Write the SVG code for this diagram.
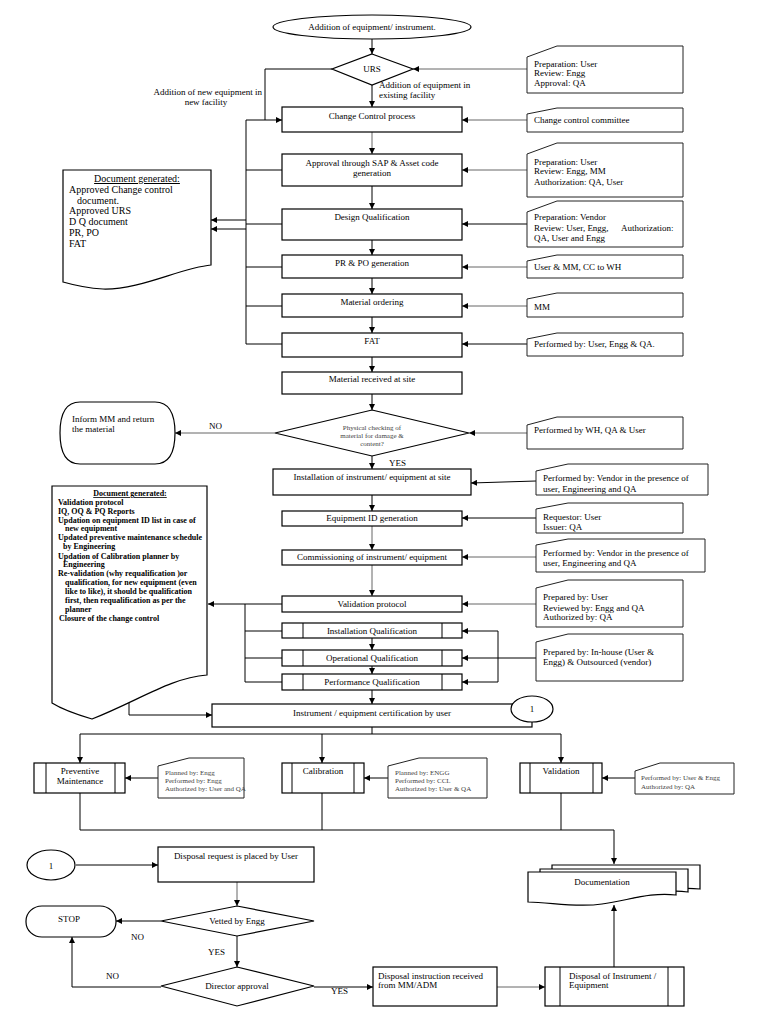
<svg xmlns="http://www.w3.org/2000/svg" width="768" height="1024" viewBox="0 0 768 1024">
<style>
.b{fill:#fff;stroke:#000;stroke-width:1.2}
.k{fill:#fff;stroke:#222;stroke-width:1}
.c{fill:none;stroke:#000;stroke-width:1}
.g{fill:none;stroke:#666;stroke-width:1}
text{font-family:"Liberation Serif","Times New Roman",serif;font-size:9px;fill:#000}
.m{text-anchor:middle}
.e{text-anchor:end}
.s{font-size:7px;fill:#444}
.d{font-size:10px}
.x{font-size:8px;font-weight:bold}
.u{text-decoration:underline}
</style>
<defs>
<marker id="a" markerUnits="userSpaceOnUse" markerWidth="6" markerHeight="6" refX="6" refY="3" orient="auto">
<path d="M0,0 L6,3 L0,6 Z" fill="#000"/>
</marker>
</defs>
<rect width="768" height="1024" fill="#fff"/>

<g id="connectors">
<path class="c" d="M372,39 V54" marker-end="url(#a)"/>
<path class="c" d="M332,69 H265 V120"/>
<path class="c" d="M246,120 H282" marker-end="url(#a)"/>
<path class="c" d="M246,120 V344"/>
<path class="c" d="M246,170 H282 M246,224 H282 M246,267 H282 M246,306 H282 M246,344 H282"/>
<path class="c" d="M246,220 H211" marker-end="url(#a)"/>
<path class="c" d="M246,229 H211" marker-end="url(#a)"/>
<path class="c" d="M372,85 V107" marker-end="url(#a)"/>
<path class="g" d="M527,69 H413" marker-end="url(#a)"/>
<path class="g" d="M527,120 H462" marker-end="url(#a)"/>
<path class="g" d="M372,132 V154" marker-end="url(#a)"/>
<path class="g" d="M527,170 H462" marker-end="url(#a)"/>
<path class="c" d="M372,186 V209" marker-end="url(#a)"/>
<path class="c" d="M527,224 H462" marker-end="url(#a)"/>
<path class="c" d="M372,240 V255" marker-end="url(#a)"/>
<path class="g" d="M527,267 H462" marker-end="url(#a)"/>
<path class="c" d="M372,278 V294" marker-end="url(#a)"/>
<path class="g" d="M527,306 H462" marker-end="url(#a)"/>
<path class="c" d="M372,317 V333" marker-end="url(#a)"/>
<path class="c" d="M527,344 H462" marker-end="url(#a)"/>
<path class="c" d="M372,357 V372" marker-end="url(#a)"/>
<path class="c" d="M372,394 V410" marker-end="url(#a)"/>
<path class="g" d="M275,433 H175" marker-end="url(#a)"/>
<path class="g" d="M527,433 H469" marker-end="url(#a)"/>
<path class="c" d="M372,456 V469" marker-end="url(#a)"/>
<path class="c" d="M536,481 L471,483" marker-end="url(#a)"/>
<path class="c" d="M372,495 V511" marker-end="url(#a)"/>
<path class="c" d="M536,518 H462" marker-end="url(#a)"/>
<path class="g" d="M372,526 V550" marker-end="url(#a)"/>
<path class="g" d="M536,557 H462" marker-end="url(#a)"/>
<path class="g" d="M372,565 V596" marker-end="url(#a)"/>
<path class="g" d="M536,604 H462" marker-end="url(#a)"/>
<path class="c" d="M282,604 H208" marker-end="url(#a)"/>
<path class="c" d="M245,604 V682 M245,631 H282 M245,658 H282 M245,682 H282"/>
<path class="c" d="M372,638 V650" marker-end="url(#a)"/>
<path class="c" d="M372,666 V674" marker-end="url(#a)"/>
<path class="c" d="M372,690 V704" marker-end="url(#a)"/>
<path class="c" d="M498,631 V682"/>
<path class="c" d="M498,631 H462" marker-end="url(#a)"/>
<path class="c" d="M498,682 H462" marker-end="url(#a)"/>
<path class="c" d="M536,658 H462" marker-end="url(#a)"/>
<path class="c" d="M129,703 V715 H212" marker-end="url(#a)"/>
<path class="c" d="M372,727 V734 M80,734 H561"/>
<path class="c" d="M80,734 V763" marker-end="url(#a)"/>
<path class="c" d="M322,734 V763" marker-end="url(#a)"/>
<path class="c" d="M561,734 V763" marker-end="url(#a)"/>
<path class="c" d="M158,778 H125" marker-end="url(#a)"/>
<path class="c" d="M388,778 H364" marker-end="url(#a)"/>
<path class="c" d="M635,778 H602" marker-end="url(#a)"/>
<path class="c" d="M80,793 V830 H614 M322,793 V830 M561,793 V830"/>
<path class="c" d="M614,830 V864" marker-end="url(#a)"/>
<path class="c" d="M614,967 V905" marker-end="url(#a)"/>
<path class="c" d="M76,865 H158" marker-end="url(#a)"/>
<path class="g" d="M237,882 V906" marker-end="url(#a)"/>
<path class="c" d="M161,921 H116" marker-end="url(#a)"/>
<path class="c" d="M237,936 V967" marker-end="url(#a)"/>
<path class="c" d="M161,987 H72 V937" marker-end="url(#a)"/>
<path class="c" d="M314,987 H373" marker-end="url(#a)"/>
<path class="g" d="M497,987 H545" marker-end="url(#a)"/>
</g>

<g id="labels">
<text class="e" x="262" y="95">Addition of new equipment in</text>
<text class="m" x="206" y="105">new facility</text>
<text x="379" y="88">Addition of equipment in</text>
<text x="379" y="98">existing facility</text>
<text x="209" y="429">NO</text>
<text x="389" y="466">YES</text>
<text x="131" y="940">NO</text>
<text x="208" y="955">YES</text>
<text x="106" y="979">NO</text>
<text x="331" y="994">YES</text>
</g>

<g id="start"><ellipse class="b" cx="372" cy="27" rx="99" ry="12"/><text class="m" x="372" y="30">Addition of equipment/ instrument.</text></g>
<g id="urs"><path class="b" d="M372,54 L413,69 L372,85 L332,69 Z"/><text class="m" x="372" y="72">URS</text></g>
<g id="cc"><rect class="b" x="282" y="107" width="180" height="25"/><text class="m" x="372" y="119">Change Control process</text></g>
<g id="sap"><rect class="b" x="282" y="154" width="180" height="32"/><text class="m" x="372" y="166">Approval through SAP &amp; Asset code</text><text class="m" x="372" y="176">generation</text></g>
<g id="dq"><rect class="b" x="282" y="209" width="180" height="31"/><text class="m" x="372" y="220">Design Qualification</text></g>
<g id="prpo"><rect class="b" x="282" y="255" width="180" height="23"/><text class="m" x="372" y="266">PR &amp; PO generation</text></g>
<g id="mo"><rect class="b" x="282" y="294" width="180" height="23"/><text class="m" x="372" y="305">Material ordering</text></g>
<g id="fat"><rect class="b" x="282" y="333" width="180" height="24"/><text class="m" x="372" y="344">FAT</text></g>
<g id="mrs"><rect class="b" x="282" y="372" width="180" height="22"/><text class="m" x="372" y="382">Material received at site</text></g>
<g id="phys"><path class="b" d="M372,410 L469,433 L372,456 L275,433 Z"/><text class="m s" x="372" y="430">Physical checking of</text><text class="m s" x="372" y="438">material for damage &amp;</text><text class="m s" x="372" y="446">content?</text></g>
<g id="inform"><path class="b" d="M80,402 H155 Q175,402 175,433 Q175,464 155,464 H80 Q60,464 60,433 Q60,402 80,402 Z"/><text x="72" y="422">Inform MM and return</text><text x="72" y="432">the material</text></g>
<g id="inst"><rect class="b" x="273" y="469" width="198" height="26"/><text class="m" x="372" y="480">Installation of instrument/ equipment at site</text></g>
<g id="eqid"><rect class="b" x="282" y="511" width="180" height="15"/><text class="m" x="372" y="521">Equipment ID generation</text></g>
<g id="comm"><rect class="b" x="282" y="550" width="180" height="15"/><text class="m" x="372" y="560">Commissioning of instrument/ equipment</text></g>
<g id="vp"><rect class="b" x="282" y="596" width="180" height="16"/><text class="m" x="372" y="607">Validation protocol</text></g>
<g id="iq"><rect class="b" x="282" y="623" width="180" height="15"/><path class="c" d="M303,623 V638 M442,623 V638"/><text class="m" x="372" y="634">Installation Qualification</text></g>
<g id="oq"><rect class="b" x="282" y="650" width="180" height="16"/><path class="c" d="M303,650 V666 M442,650 V666"/><text class="m" x="372" y="661">Operational Qualification</text></g>
<g id="pq"><rect class="b" x="282" y="674" width="180" height="16"/><path class="c" d="M303,674 V690 M442,674 V690"/><text class="m" x="372" y="685">Performance Qualification</text></g>
<g id="cert"><rect class="b" x="212" y="704" width="320" height="23"/><text class="m" x="372" y="716">Instrument / equipment certification by user</text></g>
<g id="conn1a"><ellipse class="b" cx="532" cy="709" rx="21" ry="13"/><text class="m" x="532" y="712">1</text></g>

<g id="doc1"><path class="b" d="M63,170 H211 V265 C180,268 140,290 103,289 C85,288 70,284 63,282 Z"/>
<text class="m d u" x="137" y="182">Document generated:</text>
<text class="d" x="69" y="193">Approved Change control</text>
<text class="d" x="77" y="204">document.</text>
<text class="d" x="69" y="214">Approved URS</text>
<text class="d" x="69" y="225">D Q document</text>
<text class="d" x="69" y="236">PR, PO</text>
<text class="d" x="69" y="247">FAT</text></g>

<g id="doc2"><path class="b" d="M52,486 H207 V675 C170,678 140,700 92,719 C75,714 60,708 52,703 Z"/>
<text class="m x u" x="130" y="496">Document generated:</text>
<text class="x" x="58" y="505">Validation protocol</text>
<text class="x" x="58" y="514">IQ, OQ &amp; PQ Reports</text>
<text class="x" x="58" y="523">Updation on equipment ID list in case of</text>
<text class="x" x="65" y="531">new equipment</text>
<text class="x" x="58" y="540">Updated preventive maintenance schedule</text>
<text class="x" x="63" y="549">by Engineering</text>
<text class="x" x="58" y="559">Updation of Calibration planner by</text>
<text class="x" x="63" y="567">Engineering</text>
<text class="x" x="58" y="576">Re-validation (why requalification )or</text>
<text class="x" x="65" y="585">qualification, for new equipment (even</text>
<text class="x" x="65" y="594">like to like), it should be qualification</text>
<text class="x" x="65" y="603">first, then requalification as per the</text>
<text class="x" x="65" y="612">planner</text>
<text class="x" x="59" y="621">Closure of the change control</text></g>

<g id="n1"><path class="k" d="M557,46 H683 V93 H527 V57 Z"/><text x="534" y="67">Preparation: User</text><text x="534" y="76">Review: Engg</text><text x="534" y="86">Approval: QA</text></g>
<g id="n2"><path class="k" d="M557,108 H683 V132 H527 V114 Z"/><text x="534" y="123">Change control committee</text></g>
<g id="n3"><path class="k" d="M557,143 H683 V197 H527 V154 Z"/><text x="534" y="165">Preparation: User</text><text x="534" y="174">Review: Engg, MM</text><text x="534" y="185">Authorization: QA, User</text></g>
<g id="n4"><path class="k" d="M557,201 H683 V247 H527 V212 Z"/><text x="534" y="220">Preparation: Vendor</text><text x="534" y="231">Review: User, Engg,</text><text x="621" y="231">Authorization:</text><text x="534" y="241">QA, User and Engg</text></g>
<g id="n5"><path class="k" d="M557,255 H683 V278 H527 V261 Z"/><text x="534" y="270">User &amp; MM, CC to WH</text></g>
<g id="n6"><path class="k" d="M557,293 H683 V317 H527 V299 Z"/><text x="534" y="310">MM</text></g>
<g id="n7"><path class="k" d="M557,333 H683 V356 H527 V339 Z"/><text x="534" y="347">Performed by: User, Engg &amp; QA.</text></g>
<g id="n8"><path class="k" d="M557,417 H683 V449 H527 V425 Z"/><text x="534" y="433">Performed by WH, QA &amp; User</text></g>
<g id="n9"><path class="k" d="M568,464 H708 V495 H536 V471 Z"/><text x="543" y="481">Performed by: Vendor in the presence of</text><text x="543" y="492">user, Engineering and QA</text></g>
<g id="n10"><path class="k" d="M568,503 H683 V533 H536 V509 Z"/><text x="543" y="520">Requestor: User</text><text x="543" y="530">Issuer: QA</text></g>
<g id="n11"><path class="k" d="M568,539 H705 V572 H536 V545 Z"/><text x="543" y="556">Performed by: Vendor in the presence of</text><text x="543" y="566">user, Engineering and QA</text></g>
<g id="n12"><path class="k" d="M568,580 H683 V627 H536 V588 Z"/><text x="543" y="600">Prepared by: User</text><text x="543" y="611">Reviewed by: Engg and QA</text><text x="543" y="620">Authorized by: QA</text></g>
<g id="n13"><path class="k" d="M568,634 H683 V681 H536 V642 Z"/><text x="543" y="655">Prepared by: In-house (User &amp;</text><text x="543" y="665">Engg) &amp; Outsourced (vendor)</text></g>

<g id="pm"><rect class="b" x="34" y="763" width="91" height="30"/><path class="c" d="M46,763 V793 M115,763 V793"/><text class="m" x="80" y="774">Preventive</text><text class="m" x="80" y="784">Maintenance</text></g>
<g id="npm"><path class="k" d="M189,758 H244 V798 H158 V766 Z"/><text class="s" x="165" y="775">Planned by: Engg</text><text class="s" x="165" y="783">Performed by: Engg</text><text class="s" x="165" y="791">Authorized by: User and QA</text></g>
<g id="cal"><rect class="b" x="282" y="763" width="82" height="30"/><path class="c" d="M292,763 V793 M354,763 V793"/><text class="m" x="323" y="774">Calibration</text></g>
<g id="ncal"><path class="k" d="M419,758 H487 V798 H388 V766 Z"/><text class="s" x="395" y="775">Planned by: ENGG</text><text class="s" x="395" y="783">Performed by: CCL</text><text class="s" x="395" y="791">Authorized by: User &amp; QA</text></g>
<g id="val"><rect class="b" x="520" y="763" width="82" height="30"/><path class="c" d="M530,763 V793 M593,763 V793"/><text class="m" x="561" y="774">Validation</text></g>
<g id="nval"><path class="k" d="M660,763 H734 V794 H635 V771 Z"/><text class="s" x="641" y="780">Performed by: User &amp; Engg</text><text class="s" x="641" y="789">Authorized by: QA</text></g>

<g id="docs">
<path class="b" d="M552,865 H700 V889 C680,887 670,890 660,892 L552,892 Z"/>
<path class="b" d="M540,869 H688 V892 C665,889 650,895 630,898 L540,898 Z"/>
<path class="b" d="M528,872 H676 V895 C650,892 630,900 602,904 C575,908 550,902 528,902 Z"/>
<text class="m" x="602" y="885">Documentation</text></g>

<g id="conn1b"><ellipse class="b" cx="51" cy="865" rx="24" ry="15"/><text class="m" x="51" y="869">1</text></g>
<g id="dreq"><rect class="b" x="158" y="847" width="156" height="35"/><text class="m" x="236" y="859">Disposal request is placed by User</text></g>
<g id="vet"><path class="b" d="M237,906 L314,921 L237,936 L161,921 Z"/><text class="m" x="237" y="924">Vetted by Engg</text></g>
<g id="stop"><rect class="b" x="26" y="906" width="90" height="31" rx="16" ry="15"/><text class="m" x="69" y="922">STOP</text></g>
<g id="dir"><path class="b" d="M237,967 L314,986 L237,1006 L161,986 Z"/><text class="m" x="237" y="989">Director approval</text></g>
<g id="dins"><rect class="b" x="373" y="967" width="124" height="39"/><text x="378" y="979">Disposal instruction received</text><text x="378" y="988">from  MM/ADM</text></g>
<g id="dispo"><rect class="b" x="545" y="967" width="139" height="39"/><path class="c" d="M560,967 V1006 M668,967 V1006"/><text x="569" y="979">Disposal of Instrument /</text><text x="569" y="988">Equipment</text></g>
</svg>
